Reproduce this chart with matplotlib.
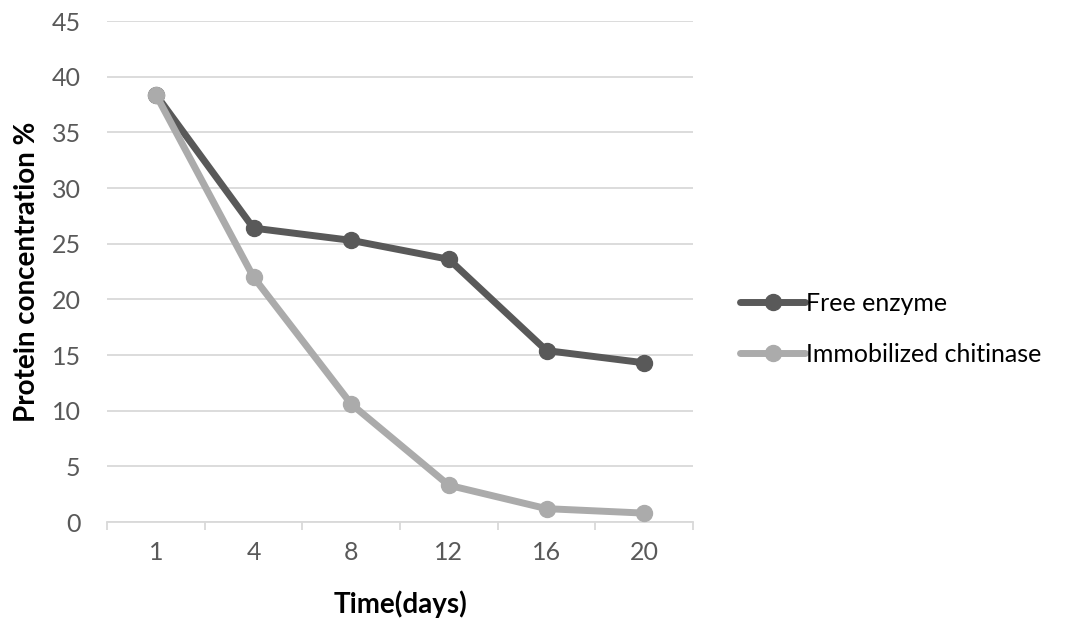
import matplotlib

matplotlib.use("Agg")
import matplotlib.pyplot as plt
import numpy as np

plt.rcParams["font.family"] = ["Lato", "DejaVu Sans"]

# dados
days = ["1", "4", "8", "12", "16", "20"]
free_enzyme = [38.4, 26.4, 25.3, 23.6, 15.4, 14.3]
immobilized = [38.4, 22.0, 10.6, 3.3, 1.2, 0.8]
yticks = [0, 5, 10, 15, 20, 25, 30, 35, 40, 45]

DARK = "#595959"
LIGHT = "#ababab"
GRID = "#d9d9d9"
TXT = "#595959"

fig = plt.figure(figsize=(10.68, 6.3), dpi=100)
ax = fig.add_axes([0.1002, 0.1714, 0.5487, 0.7952])

x = np.arange(len(days))
ax.plot(x, free_enzyme, color=DARK, linewidth=5, marker="o", markersize=11.5,
        label="Free enzyme", zorder=3, solid_capstyle="round")
ax.plot(x, immobilized, color=LIGHT, linewidth=5, marker="o", markersize=11.5,
        label="Immobilized chitinase", zorder=4, solid_capstyle="round")

ax.set_xlim(-0.5, len(days) - 0.5)
ax.set_ylim(0, 45)
ax.set_yticks(yticks)
ax.set_xticks(x)
ax.set_xticklabels(days)
ax.set_xticks(np.arange(-0.5, len(days)), minor=True)

ax.grid(axis="y", color=GRID, linewidth=1.3)
ax.set_axisbelow(True)
for s in ["left", "right", "top"]:
    ax.spines[s].set_visible(False)
ax.spines["bottom"].set_color(GRID)
ax.spines["bottom"].set_linewidth(1.3)

ax.tick_params(axis="y", length=0, pad=19, labelsize=18, labelcolor=TXT)
ax.tick_params(axis="x", which="major", length=0, pad=14, labelsize=18, labelcolor=TXT)
ax.tick_params(axis="x", which="minor", length=6, width=1.3, color=GRID)

ax.set_xlabel("Time(days)", fontsize=20, fontweight="bold", labelpad=19)
ax.set_ylabel("Protein concentration %", fontsize=20, fontweight="bold", labelpad=8)

fig.legend(loc="center left", bbox_to_anchor=(0.672, 0.478), frameon=False,
           fontsize=18, handlelength=2.6, handletextpad=0.05, labelspacing=1.1)

fig.savefig("out.png", dpi=100)
